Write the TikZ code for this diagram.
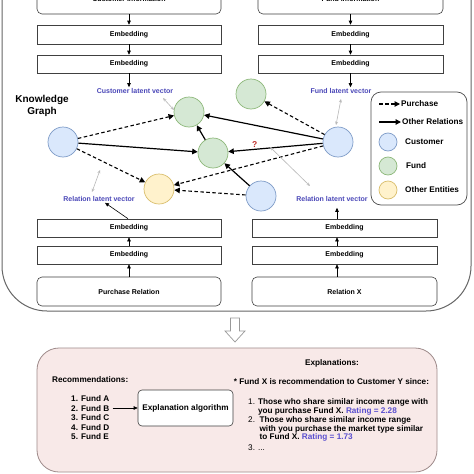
\documentclass[tikz,border=0pt]{standalone}
\usepackage{fontspec}
\setmainfont{Liberation Sans}
\usetikzlibrary{arrows.meta,shapes.geometric}
\definecolor{cblue}{HTML}{DAE8FC}
\definecolor{cbluel}{HTML}{7F9CC8}
\definecolor{cgreen}{HTML}{D5E8D4}
\definecolor{cgreenl}{HTML}{8DB87A}
\definecolor{cyellow}{HTML}{FFF2CC}
\definecolor{cyellowl}{HTML}{D9BE6C}
\definecolor{latent}{HTML}{4A47B8}
\definecolor{rating}{HTML}{5A4FCF}
\definecolor{pinkfill}{HTML}{F8E9E8}
\definecolor{pinkline}{HTML}{9E8A8A}
\definecolor{qred}{HTML}{C0302B}
\tikzset{
  f7/.style={font=\bfseries\fontsize{7}{8}\selectfont},
  ebox/.style={draw=black!75, line width=0.6pt, fill=white, minimum height=#1, inner sep=0pt, f7},
  ebox/.default=18pt,
  rbox/.style={ebox=#1, rounded corners=5pt},
  lat/.style={text=latent, f7, inner sep=1pt},
  ent/.style={circle, minimum size=30pt, line width=0.7pt, inner sep=0pt},
  cust/.style={ent, fill=cblue, draw=cbluel},
  fund/.style={ent, fill=cgreen, draw=cgreenl},
  other/.style={ent, fill=cyellow, draw=cyellowl},
  purch/.style={line width=1.1pt, dash pattern=on 3.5pt off 2.5pt, -{Triangle[length=5.5pt,width=5.5pt]}},
  rel/.style={line width=1.2pt, -{Triangle[length=5.5pt,width=5.5pt]}},
  flow/.style={line width=0.6pt, -{Triangle[length=4pt,width=3.5pt]}},
  latlink/.style={gray!55, line width=0.6pt, {Stealth[length=3.5pt,width=3pt]}-{Stealth[length=3.5pt,width=3pt]}},
  legtext/.style={font=\bfseries\fontsize{8.2}{10}\selectfont, inner sep=1pt, anchor=west},
  ptext/.style={font=\bfseries\fontsize{8.2}{9.5}\selectfont, inner sep=0pt},
}
\begin{document}
\begin{tikzpicture}[x=1pt,y=-1pt]
\useasboundingbox (0,0) rectangle (474,474);
\clip (0,0) rectangle (474,474);
\fill[white] (0,0) rectangle (474,474);
% container
\draw[black!60, line width=1pt, rounded corners=45pt] (2,-80) -- (2,311) -- (471,311) -- (471,-80);
% left column top
\node[rbox=30pt, minimum width=184pt] (cinfo) at (129,-1) {Customer Information};
\node[ebox=19pt, minimum width=184pt] (cemb1) at (129,34.5) {Embedding};
\node[ebox=18pt, minimum width=184pt] (cemb2) at (129,64) {Embedding};
\node[lat] (clat) at (135,91) {Customer latent vector};
\draw[flow] (cinfo) -- (cemb1);
\draw[flow] (cemb1) -- (cemb2);
\draw[flow] (cemb2.south) -- (cemb2.south |- clat.north);
% right column top
\node[rbox=30pt, minimum width=185pt] (finfo) at (350.5,-1) {Fund Information};
\node[ebox=19pt, minimum width=185pt] (femb1) at (350.5,34.5) {Embedding};
\node[ebox=18pt, minimum width=185pt] (femb2) at (350.5,64) {Embedding};
\node[lat] (flat) at (341,91) {Fund latent vector};
\draw[flow] (finfo) -- (femb1);
\draw[flow] (femb1) -- (femb2);
\draw[flow] (femb2.south) -- (femb2.south |- flat.north);
% bottom left
\node[ebox=18pt, minimum width=184pt] (remb1) at (129,228) {Embedding};
\node[ebox=18pt, minimum width=184pt] (remb2) at (129,255) {Embedding};
\node[rbox=29pt, minimum width=184pt] (prel) at (129,291.5) {Purchase Relation};
\node[lat] (rlat) at (99,199) {Relation latent vector};
\draw[flow] (prel) -- (remb2);
\draw[flow] (remb2) -- (remb1);
\draw[flow] ([xshift=-1pt]remb1.north) -- ([xshift=6pt]rlat.south);
% bottom right
\node[ebox=18pt, minimum width=185pt] (xemb1) at (344.5,228) {Embedding};
\node[ebox=18pt, minimum width=185pt] (xemb2) at (344.5,255) {Embedding};
\node[rbox=29pt, minimum width=185pt] (xrel) at (344.5,291.5) {Relation X};
\node[lat] (rlatr) at (332,199) {Relation latent vector};
\draw[flow] ([xshift=-7.5pt]xrel.north) -- ([xshift=-7.5pt]xemb2.south);
\draw[flow] ([xshift=-7.5pt]xemb2.north) -- ([xshift=-7.5pt]xemb1.south);
\draw[flow, shorten >=5pt] ([xshift=-7.5pt]xemb1.north) -- ([xshift=-7.5pt]xemb1.north |- rlatr.south);
% knowledge graph label
\node[font=\bfseries\fontsize{10}{12}\selectfont, align=center] (kg) at (42,106) {Knowledge\\Graph};
% entities
\node[cust] (cL) at (63,142) {};
\node[fund] (fT) at (189,112) {};
\node[fund] (fM) at (213,153) {};
\node[other] (oE) at (159,189) {};
\node[fund] (fTR) at (251,94) {};
\node[cust] (cR) at (338,142) {};
\node[cust] (cB) at (261,196) {};
% relations
\draw[purch] (cL) -- (fT);
\draw[rel] (cL) -- (fM);
\draw[purch] (cL) -- (oE);
\draw[rel] (cR) -- (fT);
\draw[rel] (fM) -- (fT);
\draw[rel] (cR) -- node[pos=0.72, above=0.5pt, text=qred, font=\bfseries\fontsize{8.5}{9}\selectfont, inner sep=1pt] {?} (fM);
\draw[purch] (cR) -- (fTR);
\draw[purch] (cR) -- (oE);
\draw[purch] (cB) -- (oE);
\draw[rel] (cB) -- (fM);
% latent links
\coordinate (g1a) at (163,98); \coordinate (g1b) at (174,110);
\coordinate (g2a) at (100,170); \coordinate (g2b) at (92,192);
\coordinate (g3a) at (341,99); \coordinate (g3b) at (336,125);
\coordinate (g4a) at (270,147); \coordinate (g4b) at (310,186);
\draw[latlink] (g1a) -- (g1b);
\draw[latlink] (g2a) -- (g2b);
\draw[latlink] (g3a) -- (g3b);
\draw[latlink] (g4a) -- (g4b);
% legend
\node[draw=black!70, rounded corners=10pt, line width=0.7pt, minimum width=96pt, minimum height=113pt, fill=white] (legend) at (419,148.5) {};
\coordinate (lp1) at (379,104); \coordinate (lp2) at (400,104);
\draw[purch] (lp1) -- (lp2);
\node[legtext] (lpt) at (400,104) {Purchase};
\coordinate (lo1) at (379,122); \coordinate (lo2) at (401,122);
\draw[rel] (lo1) -- (lo2);
\node[legtext] (lot) at (401,122) {Other Relations};
\node[cust, minimum size=18pt] (lc) at (388,142) {};
\node[legtext] (lct) at (404,142) {Customer};
\node[fund, minimum size=18pt] (lf) at (388,166) {};
\node[legtext] (lft) at (405,166) {Fund};
\node[other, minimum size=18pt] (lo) at (388,190) {};
\node[legtext] (loet) at (404,190) {Other Entities};
% down block arrow
\draw[fill=white, draw=gray!80, line width=0.7pt] (230.5,318) -- (239.5,318) -- (239.5,331) -- (245,331) -- (235,342) -- (225,331) -- (230.5,331) -- cycle;
% pink box
\node[draw=pinkline, fill=pinkfill, rounded corners=22pt, minimum width=400pt, minimum height=124pt, line width=0.8pt] (pink) at (237,410) {};
\node[ptext, anchor=west] (rect) at (52,380) {Recommendations:};
\node[ptext, anchor=west, align=left] (rlist) at (71,418) {1. Fund A\\2. Fund B\\3. Fund C\\4. Fund D\\5. Fund E};
\node[ptext, draw=black!75, fill=white, line width=0.6pt, rounded corners=4pt, minimum width=95pt, minimum height=36pt] (alg) at (185.5,408) {Explanation algorithm};
\draw[flow] ([xshift=3pt]rlist.east |- alg.west) -- (alg.west);
\node[ptext] (expl) at (332,363) {Explanations:};
\node[ptext] (since) at (331.5,382) {* Fund X is recommendation to Customer Y since:};
\node[ptext, anchor=west, align=left, font=\bfseries\fontsize{8.2}{8.75}\selectfont] (elist) at (248,425) {%
{\mdseries 1.} Those who share similar income range with\\
\phantom{1. }you purchase Fund X. \textcolor{rating}{Rating = 2.28}\\
{\mdseries 2.}\ \ Those who share similar income range\\
\phantom{2.\ \ }with you purchase the market type similar\\
\phantom{2.\ \ }to Fund X. \textcolor{rating}{Rating = 1.73}\\[2.2pt]
{\mdseries 3. ...}};
\end{tikzpicture}
\end{document}
